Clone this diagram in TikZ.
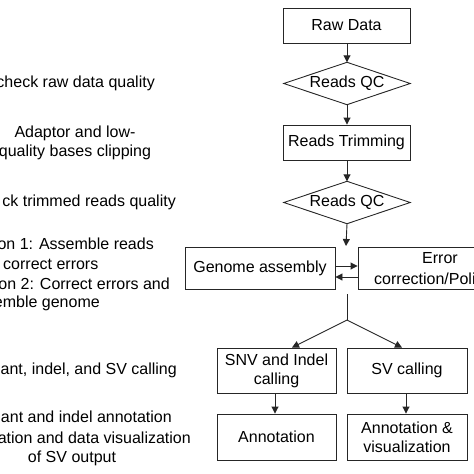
\documentclass[tikz,border=0pt]{standalone}
\usepackage{fontspec}
\setmainfont{Liberation Sans}
\usetikzlibrary{arrows.meta}
\begin{document}
\begin{tikzpicture}[x=1pt,y=-1pt,
  every node/.style={font=\fontsize{16}{19}\selectfont, inner sep=0pt},
  box/.style={draw=black!85, line width=0.9pt, rectangle, align=center},
  qcbox/.style={rectangle, minimum width=126pt, minimum height=42pt},
  dia/.style={draw=black!85, line width=0.9pt},
  arr/.style={draw=black!85, line width=0.9pt, -{Triangle[length=7pt,width=7pt]}},
  ln/.style={draw=black!85, line width=0.9pt},
  side/.style={text=black}]
\useasboundingbox (0,0) rectangle (474,474);
\clip (0,0) rectangle (474,474);
\fill[white] (0,0) rectangle (474,474);
% main column
\node[box, minimum width=127pt, minimum height=35pt] (raw) at (346.5,25.5) {Raw Data};
\node[qcbox] (qc1) at (347,83.5) {Reads QC};
\draw[dia] (qc1.west) -- (qc1.north) -- (qc1.east) -- (qc1.south) -- cycle;
\node[box, minimum width=127pt, minimum height=35pt] (trim) at (346.5,142.5) {Reads Trimming};
\node[qcbox] (qc2) at (347,202.5) {Reads QC};
\draw[dia] (qc2.west) -- (qc2.north) -- (qc2.east) -- (qc2.south) -- cycle;
\coordinate (qcend) at (346,246);
\node[box, minimum width=150pt, minimum height=42pt] (asm) at (260,268.5) {Genome assembly};
\node[box, minimum width=170pt, minimum height=42pt] (err) at (443,268.5) {};
\node (errt1) at (440,258) {Error};
\node[anchor=west] (errt2) at (374,278.5) {correction/Poli};
\coordinate (br) at (347,294);
\coordinate (brm) at (347,320);
\node[box, minimum width=119pt, minimum height=45pt] (snv) at (276.5,370.5) {SNV and Indel\\calling};
\node[box, minimum width=120pt, minimum height=45pt] (sv) at (407,370.5) {SV calling};
\node[box, minimum width=119pt, minimum height=46pt] (ann) at (276.5,437) {Annotation};
\node[box, minimum width=120pt, minimum height=46pt] (vis) at (407,437) {Annotation \&\\visualization};
% connectors
\draw[arr] (raw.south -| qc1.north) -- (qc1.north);
\draw[arr] (qc1.south) -- (trim.north -| qc1.south);
\draw[arr] (trim.south -| qc2.north) -- (qc2.north);
\draw[arr] (qc2.south) -- (qcend);
\draw[arr] ([yshift=2.5pt]asm.east) -- ([yshift=2.5pt]asm.east -| err.west);
\draw[arr] ([yshift=-8.5pt]err.west) -- ([yshift=-8.5pt]err.west -| asm.east);
\draw[ln] (br) -- (brm);
\draw[arr] (brm) -- (snv.north -| 292,0);
\draw[arr] (brm) -- (sv.north -| 402,0);
\draw[arr] (snv.south -| 275,0) -- (ann.north -| 275,0);
\draw[arr] (sv.south -| 406,0) -- (vis.north -| 406,0);
% side notes
\node[side, anchor=east] (n1) at (155,83) {check raw data quality};
\node[side, align=center] (n2) at (75,143) {Adaptor and low-\\quality bases clipping};
\node[side, anchor=east] (n3) at (176,202) {ck trimmed reads quality};
\node[side, anchor=east] (n4) at (154,244) {on 1: Assemble reads};
\node[side, anchor=west] (n5) at (3,264) {correct errors};
\node[side, anchor=east] (n6) at (170,284) {on 2: Correct errors and};
\node[side, anchor=east] (n7) at (100,303) {emble genome};
\node[side, anchor=east] (n8) at (177,370) {ant, indel, and SV calling};
\node[side, anchor=east] (n9) at (172,417) {ant and indel annotation};
\node[side, anchor=east] (n10) at (191,438) {ation and data visualization};
\node[side] (n11) at (72,458) {of SV output};
\end{tikzpicture}
\end{document}
